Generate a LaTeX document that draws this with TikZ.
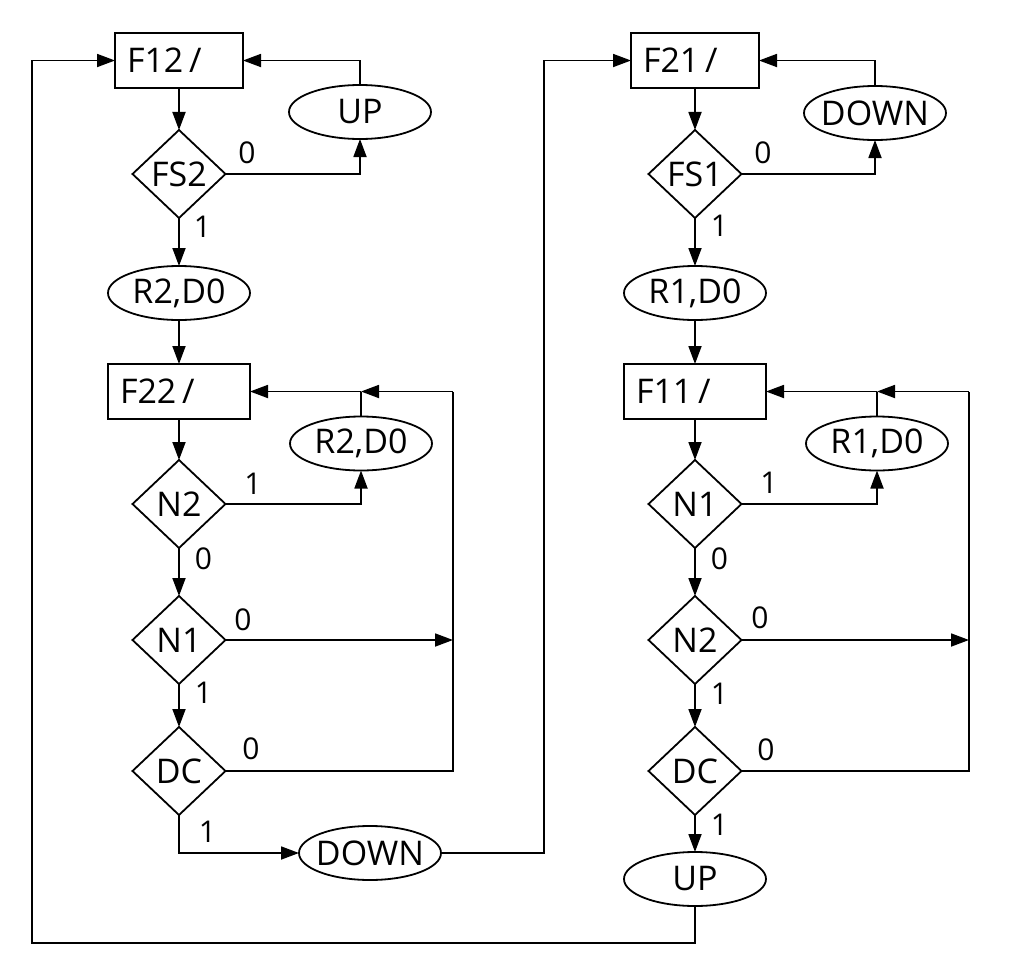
\documentclass[tikz,border=0pt]{standalone}
\usepackage{fontspec}
\setmainfont{Open Sans}
\usetikzlibrary{shapes.geometric,arrows.meta,positioning,calc}

\begin{document}
\begin{tikzpicture}[
    line width=0.9pt,
    box/.style={rectangle, draw, outer sep=0pt, minimum height=27.5pt, inner xsep=6pt, align=left, font=\fontsize{17}{20}\selectfont},
    decision/.style={diamond, draw, outer sep=0pt, minimum width=46.5pt, minimum height=44pt, inner sep=0pt, font=\fontsize{17}{20}\selectfont},
    terminal/.style={ellipse, draw, outer sep=0pt, minimum width=71pt, minimum height=27pt, inner xsep=-2.5pt, inner ysep=0pt, font=\fontsize{17}{20}\selectfont},
    lbl/.style={inner sep=1pt, font=\fontsize{15}{17}\selectfont},
    arrow/.style={->, >={Triangle[length=9pt,width=6.5pt]}}
]
\useasboundingbox (0,0) rectangle (512pt,-479.5pt);

% Left column
\node[box, text width=52pt] (f12) at (89.5pt,-30.25pt) {F12\,/};
\node[decision, below=21pt of f12] (fs2) {FS2};
\node[terminal, below=24pt of fs2] (rd2) {R2,D0};
\node[box, text width=59pt, below=22pt of rd2] (f22) {F22\,/};
\node[decision, below=20.5pt of f22] (nl2) {N2};
\node[decision, below=24pt of nl2] (nl1) {N1};
\node[decision, below=21.5pt of nl1] (dcl) {DC};
\node[terminal] (downl) at ([shift={(95.5pt,-19pt)}]dcl.south) {DOWN};

% Left loops
\node[terminal] (upl) at ([shift={(90.5pt,-25.75pt)}]f12) {UP};
\node[terminal] (rdl) at ([shift={(91pt,-26pt)}]f22) {R2,D0};
\coordinate (jl) at (rdl.north |- f22.east);
\coordinate (cl) at ([xshift=101.5pt]f22.east);

% Right column
\node[box, text width=52pt, right=194pt of f12] (f21) {F21\,/};
\node[decision, below=21pt of f21] (fs1) {FS1};
\node[terminal, below=24pt of fs1] (rd1) {R1,D0};
\node[box, text width=59pt, below=22pt of rd1] (f11) {F11\,/};
\node[decision, below=20.5pt of f11] (nr1) {N1};
\node[decision, below=24pt of nr1] (nr2) {N2};
\node[decision, below=21.5pt of nr2] (dcr) {DC};
\node[terminal, below=18.5pt of dcr] (upr) {UP};

% Right loops
\node[terminal] (downr) at ([shift={(90pt,-26.25pt)}]f21) {DOWN};
\node[terminal] (rdr) at ([shift={(91pt,-26pt)}]f11) {R1,D0};
\coordinate (jr) at (rdr.north |- f11.east);
\coordinate (cr) at ([xshift=101.5pt]f11.east);

% Return paths
\coordinate (b1) at ([yshift=-18.5pt]upr.south);
\coordinate (b2) at ([xshift=-41.5pt]f12.west);
\coordinate (b3) at ([xshift=-43.5pt]f21.west);

% Arrows left
\draw[arrow] (f12) -- (fs2);
\draw[arrow] (fs2) -- (rd2);
\draw[arrow] (rd2) -- (f22);
\draw[arrow] (f22) -- (nl2);
\draw[arrow] (nl2) -- (nl1);
\draw[arrow] (nl1) -- (dcl);
\draw[arrow] (fs2.east) -| (upl.south);
\draw[arrow] (upl.north) |- (f12.east);
\draw[arrow] (nl2.east) -| (rdl.south);
\draw (rdl.north) -- (jl);
\draw[arrow] (cl) -- (jl);
\draw[arrow] (jl) -- (f22.east);
\draw[arrow] (nl1.east) -- (nl1.east -| cl);
\draw (dcl.east) -| (cl);
\draw[arrow] (dcl.south) |- (downl.west);
\draw[arrow] (downl.east) -| (b3) -- (f21.west);

% Arrows right
\draw[arrow] (f21) -- (fs1);
\draw[arrow] (fs1) -- (rd1);
\draw[arrow] (rd1) -- (f11);
\draw[arrow] (f11) -- (nr1);
\draw[arrow] (nr1) -- (nr2);
\draw[arrow] (nr2) -- (dcr);
\draw[arrow] (dcr) -- (upr);
\draw[arrow] (fs1.east) -| (downr.south);
\draw[arrow] (downr.north) |- (f21.east);
\draw[arrow] (nr1.east) -| (rdr.south);
\draw (rdr.north) -- (jr);
\draw[arrow] (cr) -- (jr);
\draw[arrow] (jr) -- (f11.east);
\draw[arrow] (nr2.east) -- (nr2.east -| cr);
\draw (dcr.east) -| (cr);
\draw[arrow] (upr.south) -- (b1) -| (b2) -- (f12.west);

% Branch labels
\node[lbl, above right=3.5pt and 5pt of fs2.east] (l1) {0};
\node[lbl, below right=-2.5pt and 6pt of fs2.south] (l2) {1};
\node[lbl, above right=3.5pt and 8pt of nl2.east] (l3) {1};
\node[lbl, below right=-1.5pt and 6.5pt of nl2.south] (l4) {0};
\node[lbl, above right=3pt and 3pt of nl1.east] (l5) {0};
\node[lbl, below right=-2.5pt and 6.5pt of nl1.south] (l6) {1};
\node[lbl, above right=4pt and 7pt of dcl.east] (l7) {0};
\node[lbl, below right=1.5pt and 8.5pt of dcl.south] (l8) {1};
\node[lbl, above right=3.5pt and 5pt of fs1.east] (r1) {0};
\node[lbl, below right=-3pt and 6.5pt of fs1.south] (r2) {1};
\node[lbl, above right=4pt and 8pt of nr1.east] (r3) {1};
\node[lbl, below right=-1.5pt and 6.5pt of nr1.south] (r4) {0};
\node[lbl, above right=4pt and 3.5pt of nr2.east] (r5) {0};
\node[lbl, below right=-2pt and 6.5pt of nr2.south] (r6) {1};
\node[lbl, above right=3.5pt and 6.5pt of dcr.east] (r7) {0};
\node[lbl, below right=-2pt and 6.5pt of dcr.south] (r8) {1};

\end{tikzpicture}
\end{document}
